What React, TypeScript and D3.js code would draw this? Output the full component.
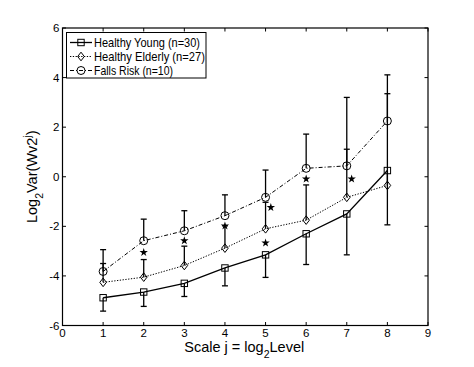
import React from "react";
import * as d3 from "d3";

const scales = [1, 2, 3, 4, 5, 6, 7, 8];
const young = [-4.88, -4.65, -4.3, -3.68, -3.15, -2.3, -1.5, 0.25];
const youngErrLow = [0.54, 0.58, 0.53, 0.72, 0.91, 1.24, 1.65, 2.19];
const elderly = [-4.26, -4.05, -3.58, -2.88, -2.1, -1.75, -0.83, -0.35];
const elderlyErrUp = [0.76, 0.71, 0.78, 0.9, 1.07, 1.42, 1.94, 3.7];
const falls = [-3.82, -2.58, -2.18, -1.57, -0.83, 0.34, 0.44, 2.25];
const fallsErrUp = [0.88, 0.87, 0.81, 0.84, 1.1, 1.38, 2.76, 1.86];
const starX = [2, 3, 4, 5.13, 5, 6, 7.12];
const starY = [-3.05, -2.58, -1.98, -1.24, -2.67, -0.09, -0.09];
const xTicks = [0, 1, 2, 3, 4, 5, 6, 7, 8, 9];
const yTicks = [-6, -4, -2, 0, 2, 4, 6];
const legendLabels = ["Healthy Young (n=30)", "Healthy Elderly (n=27)", "Falls Risk (n=10)"];

const W = 474, H = 367;
const L = 62.5, R = 428, T = 28, B = 325.5;

export default function App() {
  const x = d3.scaleLinear().domain([0, 9]).range([L, R]);
  const y = d3.scaleLinear().domain([-6, 6]).range([B, T]);
  const line = d3.line<number>().x((_, i) => x(scales[i])).y((d) => y(d));
  const font = "'Liberation Sans', Arial, Helvetica, sans-serif";

  const series = [
    { vals: young, dash: "none", marker: "square", err: youngErrLow.map((e) => -e) },
    { vals: elderly, dash: "1.3,1.5", marker: "diamond", err: elderlyErrUp },
    { vals: falls, dash: "4,2,1,2", marker: "circle", err: fallsErrUp },
  ];

  const drawMarker = (m: string, cx: number, cy: number, key: string) => {
    if (m === "square")
      return <rect key={key} x={cx - 3.2} y={cy - 3.2} width={6.4} height={6.4} fill="none" stroke="#000" strokeWidth={1} />;
    if (m === "diamond")
      return (
        <path key={key} d={`M${cx},${cy - 4.3}L${cx + 3.3},${cy}L${cx},${cy + 4.3}L${cx - 3.3},${cy}Z`} fill="none" stroke="#000" strokeWidth={1} />
      );
    return <circle key={key} cx={cx} cy={cy} r={4} fill="none" stroke="#000" strokeWidth={1} />;
  };

  const star = d3.symbol().type(d3.symbolStar).size(22)();
  const legendWidths = [106, 111, 79];

  return (
    <svg width={W} height={H} style={{ position: "absolute", left: 0, top: 0 }}>
      <rect width={W} height={H} fill="#fff" />
      <rect x={L} y={T} width={R - L} height={B - T} fill="none" stroke="#000" strokeWidth={1.2} />
      {xTicks.map((t) => (
        <g key={"xt" + t}>
          <line x1={x(t)} x2={x(t)} y1={B} y2={B - 3.5} stroke="#000" />
          <line x1={x(t)} x2={x(t)} y1={T} y2={T + 3.5} stroke="#000" />
          <text x={x(t)} y={336.5} textAnchor="middle" fontFamily={font} fontSize={11.5}>{t}</text>
        </g>
      ))}
      {yTicks.map((t) => (
        <g key={"yt" + t}>
          <line x1={L} x2={L + 3.5} y1={y(t)} y2={y(t)} stroke="#000" />
          <line x1={R} x2={R - 3.5} y1={y(t)} y2={y(t)} stroke="#000" />
          <text x={L - 3} y={y(t) + 4} textAnchor="end" fontFamily={font} fontSize={11.5}>{t}</text>
        </g>
      ))}
      {series.map((s, si) =>
        s.vals.map((v, i) => {
          const cx = x(scales[i]);
          const y1 = y(v);
          const y2 = y(v + s.err[i]);
          return (
            <g key={`e${si}-${i}`}>
              <line x1={cx} x2={cx} y1={y1} y2={y2} stroke="#000" strokeWidth={1.3} />
              <line x1={cx - 3} x2={cx + 3} y1={y2} y2={y2} stroke="#000" strokeWidth={1.3} />
            </g>
          );
        })
      )}
      {series.map((s, si) => (
        <path key={"l" + si} d={line(s.vals) || ""} fill="none" stroke="#000" strokeWidth={si === 0 ? 1.3 : 1} strokeDasharray={s.dash} />
      ))}
      {series.map((s, si) => s.vals.map((v, i) => drawMarker(s.marker, x(scales[i]), y(v), `m${si}-${i}`)))}
      {starX.map((sx, i) => (
        <path key={"s" + i} d={star || ""} transform={`translate(${x(sx)},${y(starY[i])})`} fill="#000" />
      ))}
      <rect x={66.5} y={32.5} width={139.5} height={45.5} fill="#fff" stroke="#000" strokeWidth={1} />
      {legendLabels.map((lab, i) => {
        const ly = 42.5 + i * 14;
        return (
          <g key={"lg" + i}>
            <line x1={70} x2={92} y1={ly} y2={ly} stroke="#000" strokeWidth={i === 0 ? 1.3 : 1} strokeDasharray={series[i].dash} />
            {drawMarker(series[i].marker, 81, ly, "lm" + i)}
            <text x={94} y={ly + 4.5} fontFamily={font} fontSize={13} textLength={legendWidths[i]} lengthAdjust="spacingAndGlyphs">{lab}</text>
          </g>
        );
      })}
      <text x={(L + R) / 2 - 1} y={352} textAnchor="middle" fontFamily={font} fontSize={14.5}>
        Scale j = log<tspan baselineShift="sub" fontSize={10.5}>2</tspan>Level
      </text>
      <text transform={`translate(37,${(T + B) / 2}) rotate(-90)`} textAnchor="middle" fontFamily={font} fontSize={14.5}>
        Log<tspan baselineShift="sub" fontSize={10.5}>2</tspan>Var(Wv2<tspan baselineShift="super" fontSize={10.5}>j</tspan>)
      </text>
    </svg>
  );
}
